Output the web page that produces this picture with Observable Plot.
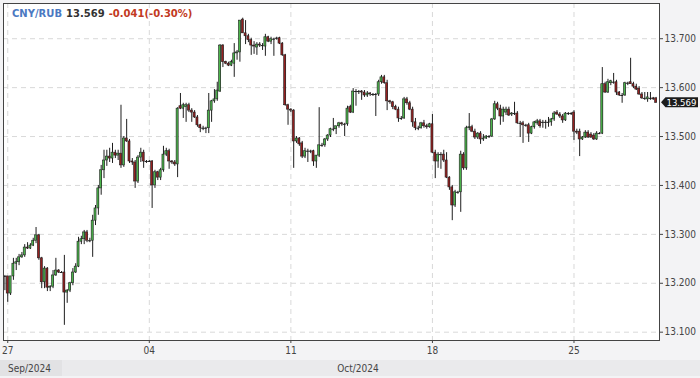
<!DOCTYPE html>
<html><head><meta charset="utf-8">
<script src="https://cdn.jsdelivr.net/npm/d3@7"></script>
<script src="https://cdn.jsdelivr.net/npm/@observablehq/plot@0.6"></script>
<style>
html,body{margin:0;padding:0;background:#f3f3f5;}
#chart svg{display:block;}
</style></head><body><div id="chart"></div>
<script>
const open = [
13.214,13.214,13.179,13.214,13.240,13.243,13.253,13.257,13.273,13.271,
13.277,13.287,13.298,13.251,13.202,13.230,13.191,13.193,13.216,13.226,
13.222,13.222,13.181,13.185,13.200,13.222,13.234,13.285,13.290,13.304,
13.287,13.287,13.328,13.353,13.394,13.431,13.451,13.459,13.455,13.467,
13.461,13.465,13.441,13.496,13.490,13.449,13.447,13.408,13.457,13.467,
13.449,13.449,13.449,13.400,13.427,13.416,13.431,13.463,13.470,13.449,
13.447,13.443,13.562,13.557,13.560,13.564,13.553,13.549,13.539,13.523,
13.517,13.517,13.517,13.553,13.572,13.576,13.592,13.686,13.652,13.649,
13.645,13.649,13.670,13.672,13.739,13.711,13.705,13.697,13.686,13.682,
13.688,13.686,13.684,13.703,13.694,13.699,13.701,13.701,13.690,13.666,
13.564,13.555,13.553,13.490,13.496,13.486,13.459,13.470,13.470,13.470,
13.449,13.461,13.482,13.482,13.494,13.502,13.515,13.515,13.521,13.527,
13.525,13.525,13.560,13.549,13.592,13.592,13.592,13.590,13.584,13.588,
13.586,13.586,13.586,13.611,13.621,13.609,13.572,13.570,13.560,13.555,
13.537,13.537,13.576,13.568,13.555,13.529,13.517,13.517,13.527,13.521,
13.519,13.525,13.467,13.449,13.463,13.463,13.451,13.416,13.396,13.359,
13.386,13.386,13.463,13.435,13.517,13.519,13.510,13.498,13.506,13.494,
13.496,13.500,13.500,13.535,13.566,13.557,13.541,13.549,13.555,13.545,
13.547,13.547,13.527,13.527,13.523,13.523,13.506,13.519,13.527,13.531,
13.529,13.529,13.529,13.529,13.535,13.549,13.545,13.541,13.533,13.547,
13.547,13.549,13.510,13.510,13.494,13.498,13.508,13.504,13.502,13.494,
13.506,13.506,13.607,13.590,13.609,13.611,13.611,13.590,13.584,13.584,
13.609,13.611,13.607,13.602,13.598,13.586,13.578,13.576,13.578,13.578,13.578];
const high = [
13.216,13.214,13.214,13.251,13.251,13.259,13.263,13.279,13.283,13.281,
13.292,13.314,13.300,13.253,13.234,13.232,13.195,13.226,13.251,13.228,
13.224,13.257,13.187,13.202,13.230,13.240,13.294,13.296,13.308,13.308,
13.292,13.339,13.359,13.400,13.441,13.472,13.472,13.476,13.486,13.472,
13.472,13.564,13.500,13.535,13.494,13.455,13.451,13.461,13.476,13.472,
13.451,13.451,13.451,13.431,13.429,13.435,13.480,13.476,13.474,13.451,
13.451,13.559,13.588,13.568,13.568,13.568,13.557,13.553,13.543,13.525,
13.521,13.519,13.588,13.574,13.596,13.611,13.688,13.688,13.654,13.652,
13.656,13.690,13.676,13.737,13.742,13.737,13.709,13.701,13.694,13.692,
13.692,13.690,13.709,13.705,13.703,13.701,13.703,13.703,13.692,13.668,
13.566,13.557,13.555,13.500,13.498,13.490,13.476,13.474,13.472,13.472,
13.461,13.559,13.486,13.496,13.504,13.517,13.537,13.521,13.529,13.529,
13.527,13.562,13.564,13.598,13.596,13.594,13.594,13.594,13.592,13.590,
13.588,13.588,13.615,13.625,13.625,13.615,13.574,13.572,13.564,13.560,
13.541,13.580,13.580,13.572,13.560,13.537,13.521,13.529,13.533,13.525,
13.527,13.545,13.472,13.467,13.467,13.472,13.467,13.418,13.400,13.390,
13.388,13.470,13.467,13.521,13.547,13.523,13.515,13.508,13.510,13.504,
13.502,13.502,13.537,13.572,13.570,13.564,13.560,13.560,13.560,13.549,
13.570,13.551,13.531,13.531,13.525,13.527,13.521,13.531,13.535,13.535,
13.533,13.533,13.539,13.537,13.551,13.553,13.549,13.545,13.549,13.549,
13.549,13.553,13.515,13.515,13.500,13.512,13.512,13.508,13.506,13.510,
13.508,13.641,13.611,13.617,13.615,13.629,13.615,13.592,13.588,13.611,
13.611,13.660,13.611,13.607,13.602,13.590,13.590,13.590,13.590,13.580,13.580];
const low = [
13.185,13.161,13.175,13.206,13.226,13.236,13.251,13.253,13.269,13.269,
13.275,13.281,13.247,13.189,13.189,13.183,13.183,13.189,13.214,13.220,
13.220,13.114,13.159,13.181,13.195,13.220,13.232,13.279,13.279,13.283,
13.283,13.253,13.318,13.339,13.380,13.414,13.439,13.447,13.445,13.455,
13.451,13.435,13.437,13.488,13.445,13.441,13.394,13.404,13.447,13.435,
13.445,13.447,13.353,13.394,13.410,13.410,13.427,13.459,13.433,13.443,
13.439,13.416,13.555,13.537,13.529,13.549,13.529,13.537,13.519,13.508,
13.512,13.506,13.506,13.529,13.568,13.572,13.590,13.641,13.647,13.643,
13.643,13.621,13.656,13.652,13.711,13.688,13.692,13.666,13.668,13.666,
13.682,13.676,13.664,13.692,13.688,13.664,13.697,13.688,13.664,13.562,
13.523,13.549,13.435,13.486,13.480,13.455,13.455,13.447,13.465,13.439,
13.435,13.457,13.478,13.478,13.490,13.498,13.510,13.504,13.517,13.521,
13.500,13.521,13.547,13.547,13.562,13.586,13.574,13.580,13.580,13.582,
13.582,13.541,13.582,13.607,13.607,13.553,13.566,13.555,13.553,13.529,
13.533,13.535,13.564,13.553,13.519,13.512,13.512,13.515,13.517,13.515,
13.517,13.465,13.414,13.435,13.433,13.447,13.414,13.390,13.328,13.355,
13.382,13.345,13.431,13.431,13.512,13.508,13.494,13.494,13.484,13.490,
13.494,13.496,13.498,13.533,13.553,13.523,13.529,13.543,13.541,13.541,
13.543,13.525,13.498,13.486,13.519,13.488,13.504,13.515,13.523,13.517,
13.517,13.515,13.519,13.521,13.531,13.543,13.537,13.527,13.531,13.543,
13.543,13.492,13.504,13.459,13.492,13.496,13.496,13.496,13.492,13.492,
13.504,13.504,13.588,13.588,13.604,13.607,13.584,13.582,13.568,13.582,
13.604,13.607,13.598,13.594,13.584,13.576,13.574,13.570,13.574,13.574,13.568];
const close = [
13.214,13.179,13.214,13.240,13.243,13.253,13.257,13.273,13.271,13.277,
13.287,13.298,13.251,13.202,13.230,13.191,13.193,13.216,13.226,13.222,
13.222,13.181,13.185,13.200,13.222,13.234,13.285,13.290,13.304,13.287,
13.287,13.328,13.353,13.394,13.431,13.451,13.459,13.455,13.467,13.461,
13.465,13.441,13.496,13.490,13.449,13.447,13.408,13.457,13.467,13.449,
13.449,13.449,13.400,13.427,13.416,13.431,13.463,13.470,13.449,13.447,
13.443,13.557,13.557,13.564,13.564,13.553,13.549,13.539,13.523,13.517,
13.517,13.517,13.553,13.572,13.576,13.594,13.686,13.652,13.649,13.645,
13.652,13.670,13.672,13.737,13.711,13.705,13.697,13.686,13.684,13.688,
13.686,13.686,13.703,13.694,13.699,13.699,13.701,13.690,13.666,13.564,
13.555,13.553,13.490,13.496,13.484,13.459,13.470,13.470,13.470,13.449,
13.461,13.482,13.482,13.494,13.502,13.515,13.515,13.521,13.527,13.525,
13.525,13.557,13.549,13.592,13.592,13.592,13.590,13.584,13.588,13.586,
13.586,13.586,13.611,13.621,13.609,13.572,13.570,13.560,13.555,13.537,
13.537,13.576,13.568,13.555,13.529,13.517,13.517,13.527,13.521,13.519,
13.525,13.467,13.449,13.463,13.463,13.451,13.416,13.396,13.359,13.386,
13.386,13.463,13.435,13.517,13.519,13.510,13.498,13.506,13.494,13.496,
13.500,13.500,13.535,13.566,13.557,13.541,13.555,13.555,13.543,13.547,
13.547,13.527,13.527,13.523,13.523,13.506,13.519,13.529,13.531,13.521,
13.529,13.529,13.529,13.535,13.547,13.545,13.541,13.533,13.547,13.547,
13.547,13.510,13.508,13.494,13.498,13.508,13.498,13.498,13.494,13.506,
13.506,13.607,13.590,13.611,13.613,13.611,13.590,13.584,13.584,13.609,
13.609,13.607,13.602,13.596,13.586,13.578,13.578,13.580,13.578,13.576,13.569];

const yTicks = [13.1, 13.2, 13.3, 13.4, 13.5, 13.6, 13.7];
const dayTickIndex = [1, 51, 101, 151, 201];
const dayTickLabels = ["27", "04", "11", "18", "25"];
const monthLabels = ["Sep/2024", "Oct/2024"];
const monthStart = [-0.5, 20.5];
const monthEnd = [20.5, 231.2];
const titlePair = "CNY/RUB";
const titlePrice = "13.569";
const titleChange = "-0.041(-0.30%)";
const lastPrice = 13.569;

const N = Math.min(open.length, high.length, low.length, close.length);
const data = d3.range(N).map(i => ({i, open: open[i], high: high[i], low: low[i], close: close[i]}));
const up = data.filter(d => d.close > d.open);
const down = data.filter(d => d.close < d.open);
const doji = data.filter(d => d.close === d.open);

const FONT = "'DejaVu Sans Condensed', 'DejaVu Sans', sans-serif";
const W = 0.36;

const chart = Plot.plot({
  width: 700, height: 378,
  marginTop: 3, marginBottom: 38, marginLeft: 3, marginRight: 41,
  style: {background: "#f3f3f5", fontFamily: FONT, fontSize: "10px", color: "#444"},
  x: {domain: [-0.5, 231.2], axis: null},
  y: {domain: [13.083, 13.772], axis: null},
  marks: [
    Plot.frame({fill: "white"}),
    Plot.ruleY(yTicks, {stroke: "#d9d9d9", strokeDasharray: "5,4"}),
    Plot.ruleX(dayTickIndex, {stroke: "#d9d9d9", strokeDasharray: "5,4"}),
    Plot.ruleX(data, {x: "i", y1: "low", y2: "high", stroke: "#1e1e1e", strokeWidth: 1}),
    Plot.rect(up, {x1: d => d.i - W, x2: d => d.i + W, y1: "open", y2: "close", fill: "#4cb54c", stroke: "#1e1e1e", strokeWidth: 0.6}),
    Plot.rect(down, {x1: d => d.i - W, x2: d => d.i + W, y1: "open", y2: "close", fill: "#962020", stroke: "#1e1e1e", strokeWidth: 0.6}),
    Plot.ruleY(doji, {y: "close", x1: d => d.i - 0.5, x2: d => d.i + 0.5, stroke: "#1e1e1e", strokeWidth: 1}),
    Plot.axisY(yTicks, {anchor: "right", tickFormat: d3.format(".3f"), tickSize: 3, tickPadding: 2, fontSize: 10, color: "#444"}),
    Plot.axisX(dayTickIndex, {anchor: "bottom", tickFormat: d => dayTickLabels[dayTickIndex.indexOf(d)], tickSize: 3, tickPadding: 3, fontSize: 10, color: "#444"}),
    Plot.frame({stroke: "#444"})
  ]
});

const svg = d3.select(chart);
const xs = chart.scale("x"), ys = chart.scale("y");

// month band
const band = svg.append("g");
monthLabels.forEach((m, k) => {
  const x1 = k === 0 ? 0 : xs.apply(monthStart[k]);
  const x2 = k === monthLabels.length - 1 ? 700 : xs.apply(monthEnd[k]);
  band.append("rect").attr("x", x1).attr("y", 360).attr("width", x2 - x1).attr("height", 16)
    .attr("fill", k === 0 ? "#e2e2e4" : "#eaeaec");
  band.append("text").attr("x", k === 0 ? x1 + 8 : 358).attr("y", 372)
    .attr("text-anchor", k === 0 ? "start" : "middle")
    .attr("font-family", FONT).attr("font-size", 10).attr("fill", "#444").text(m);
});

// title
const t = svg.append("text").attr("x", 12).attr("y", 17).attr("text-anchor", "start")
  .attr("font-family", "'DejaVu Sans', sans-serif").attr("font-size", 10).attr("font-weight", "bold");
t.append("tspan").attr("fill", "#4b79c2").text(titlePair);
t.append("tspan").attr("fill", "#333").attr("dx", 4).text(titlePrice);
t.append("tspan").attr("fill", "#c23a22").attr("dx", 4).text(titleChange);

// last price badge
const yc = ys.apply(lastPrice);
svg.append("path")
  .attr("d", `M661,${yc} L665.5,${yc - 5} L698,${yc - 5} L698,${yc + 5} L665.5,${yc + 5} Z`)
  .attr("fill", "#1c1c1c");
svg.append("text").attr("x", 666.5).attr("y", yc + 3.4).attr("text-anchor", "start")
  .attr("font-family", FONT).attr("font-size", 9.5).attr("fill", "white").text(titlePrice);

document.getElementById("chart").appendChild(chart);
</script>
</body></html>
